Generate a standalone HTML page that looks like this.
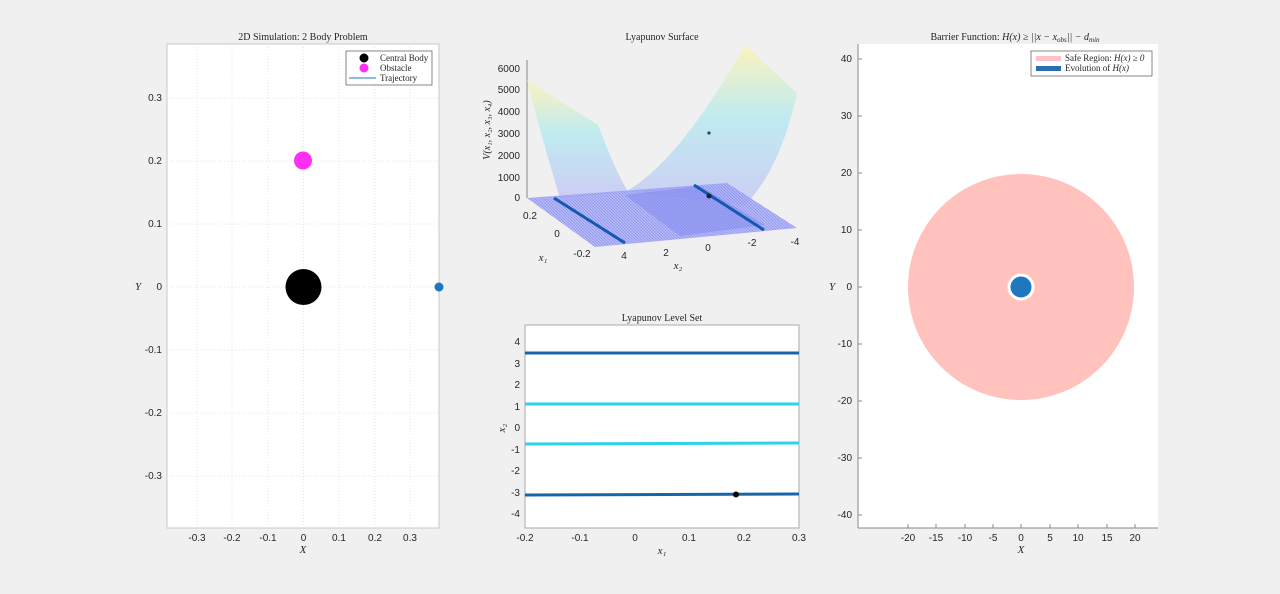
<!DOCTYPE html>
<html><head><style>
body{margin:0;background:#f0f0f0;width:1280px;height:594px;overflow:hidden}
svg{display:block}
text{font-family:"Liberation Sans",sans-serif;font-size:10px;fill:#262626}
.s{font-family:"Liberation Serif",serif;font-size:10px}
.i{font-family:"Liberation Serif",serif;font-style:italic;font-size:11px}
</style></head><body>
<svg width="1280" height="594" viewBox="0 0 1280 594">
<defs>
<linearGradient id="sg" x1="0" y1="0" x2="0" y2="1">
<stop offset="0" stop-color="#fff3b0"/><stop offset="0.45" stop-color="#b4eaf0"/><stop offset="1" stop-color="#c4c4f5"/>
</linearGradient>
<pattern id="mesh" width="3" height="3" patternUnits="userSpaceOnUse"><rect width="3" height="3" fill="#a9aef7"/><path d="M0 0L3 3" stroke="#6f78ee" stroke-width="0.6"/></pattern>
</defs>

<!-- Panel 1 -->
<rect x="167" y="44" width="272" height="484" fill="#fff" stroke="#c8c8c8"/>
<g stroke="#e4e4e4" stroke-dasharray="1,2">
<line x1="197" y1="44" x2="197" y2="528"/><line x1="232" y1="44" x2="232" y2="528"/><line x1="268" y1="44" x2="268" y2="528"/><line x1="303.5" y1="44" x2="303.5" y2="528"/><line x1="339" y1="44" x2="339" y2="528"/><line x1="375" y1="44" x2="375" y2="528"/><line x1="410" y1="44" x2="410" y2="528"/>
<line x1="167" y1="98" x2="439" y2="98"/><line x1="167" y1="161" x2="439" y2="161"/><line x1="167" y1="224" x2="439" y2="224"/><line x1="167" y1="287" x2="439" y2="287"/><line x1="167" y1="350" x2="439" y2="350"/><line x1="167" y1="413" x2="439" y2="413"/><line x1="167" y1="476" x2="439" y2="476"/>
</g>
<text class="s" x="303" y="40" text-anchor="middle">2D Simulation: 2 Body Problem</text>
<g text-anchor="end"><text x="162" y="101">0.3</text><text x="162" y="164">0.2</text><text x="162" y="227">0.1</text><text x="162" y="290">0</text><text x="162" y="353">-0.1</text><text x="162" y="416">-0.2</text><text x="162" y="479">-0.3</text></g>
<g text-anchor="middle"><text x="197" y="541">-0.3</text><text x="232" y="541">-0.2</text><text x="268" y="541">-0.1</text><text x="303.5" y="541">0</text><text x="339" y="541">0.1</text><text x="375" y="541">0.2</text><text x="410" y="541">0.3</text></g>
<text class="i" x="303" y="553" text-anchor="middle">X</text>
<text class="i" x="138" y="290" text-anchor="middle">Y</text>
<circle cx="303.5" cy="287" r="18" fill="#000"/>
<circle cx="303" cy="160.5" r="9" fill="#ff2ef0"/>
<circle cx="439" cy="287" r="4.5" fill="#1f77c0"/>
<rect x="346" y="51" width="86" height="34" fill="#fff" stroke="#555" stroke-width="0.7"/>
<circle cx="364" cy="58" r="4.5" fill="#000"/><circle cx="364" cy="68" r="4.5" fill="#ff2ef0"/>
<line x1="349" y1="78" x2="376" y2="78" stroke="#1f77c0"/>
<text class="s" x="380" y="61" style="font-size:9px">Central Body</text><text class="s" x="380" y="71" style="font-size:9px">Obstacle</text><text class="s" x="380" y="81" style="font-size:9px">Trajectory</text>

<!-- Panel 2: 3D surface -->
<text class="s" x="662" y="40" text-anchor="middle">Lyapunov Surface</text>
<line x1="527" y1="60" x2="527" y2="198" stroke="#888"/>
<g text-anchor="end"><text x="520" y="72">6000</text><text x="520" y="93">5000</text><text x="520" y="115">4000</text><text x="520" y="137">3000</text><text x="520" y="159">2000</text><text x="520" y="181">1000</text><text x="520" y="201">0</text></g>
<text class="i" x="490" y="130" text-anchor="middle" transform="rotate(-90 490 130)" style="font-size:10px">V(x₁, x₂, x₃, x₄)</text>
<path d="M527 80 L598 125 Q615 170 628 192 L560 198 Q545 150 527 80Z" fill="url(#sg)" opacity="0.8"/>
<path d="M627 191 Q680 160 745 45 L797 93 Q780 170 745 205 Z" fill="url(#sg)" opacity="0.8"/>
<path d="M527 198 L727 183 L797 228 L595 247 Z" fill="url(#mesh)" opacity="0.85"/>
<path d="M625 195 L700 186 L765 225 L680 236 Z" fill="#8088ee" opacity="0.5"/>
<line x1="554" y1="198" x2="625" y2="243" stroke="#1558b0" stroke-width="3"/>
<line x1="694" y1="185" x2="764" y2="230" stroke="#1558b0" stroke-width="3"/>
<circle cx="709" cy="133" r="1.6" fill="#1a4a90"/><circle cx="709" cy="196" r="2.5" fill="#123"/>
<g text-anchor="middle"><text x="530" y="219">0.2</text><text x="557" y="237">0</text><text x="582" y="257">-0.2</text><text x="624" y="259">4</text><text x="666" y="256">2</text><text x="708" y="251">0</text><text x="752" y="246">-2</text><text x="795" y="245">-4</text></g>
<text class="i" x="543" y="261" text-anchor="middle">x₁</text><text class="i" x="678" y="269" text-anchor="middle">x₂</text>

<!-- Panel 3: level set -->
<rect x="525" y="325" width="274" height="203" fill="#fff" stroke="#aaa"/>
<text class="s" x="662" y="321" text-anchor="middle">Lyapunov Level Set</text>
<g text-anchor="end"><text x="520" y="345">4</text><text x="520" y="367">3</text><text x="520" y="388">2</text><text x="520" y="410">1</text><text x="520" y="431">0</text><text x="520" y="453">-1</text><text x="520" y="474">-2</text><text x="520" y="496">-3</text><text x="520" y="517">-4</text></g>
<g text-anchor="middle"><text x="525" y="541">-0.2</text><text x="580" y="541">-0.1</text><text x="635" y="541">0</text><text x="689" y="541">0.1</text><text x="744" y="541">0.2</text><text x="799" y="541">0.3</text></g>
<text class="i" x="662" y="554" text-anchor="middle">x₁</text>
<text class="i" x="505" y="428" text-anchor="middle" transform="rotate(-90 505 428)">x₂</text>
<line x1="525" y1="353" x2="799" y2="353" stroke="#1565a8" stroke-width="3"/>
<line x1="525" y1="404" x2="799" y2="404" stroke="#2dd3e8" stroke-width="3"/>
<line x1="525" y1="444" x2="799" y2="443" stroke="#2dd3e8" stroke-width="3"/>
<line x1="525" y1="495" x2="799" y2="494" stroke="#1565a8" stroke-width="3"/>
<circle cx="736" cy="494.5" r="3" fill="#000"/>

<!-- Panel 4 -->
<rect x="858" y="44" width="300" height="484" fill="#fff"/>
<line x1="858" y1="44" x2="858" y2="528" stroke="#888"/><line x1="858" y1="528" x2="1158" y2="528" stroke="#888"/>
<g stroke="#888">
<line x1="858" y1="59" x2="862" y2="59"/><line x1="858" y1="116" x2="862" y2="116"/><line x1="858" y1="173" x2="862" y2="173"/><line x1="858" y1="230" x2="862" y2="230"/><line x1="858" y1="287" x2="862" y2="287"/><line x1="858" y1="344" x2="862" y2="344"/><line x1="858" y1="401" x2="862" y2="401"/><line x1="858" y1="458" x2="862" y2="458"/><line x1="858" y1="515" x2="862" y2="515"/>
<line x1="908" y1="528" x2="908" y2="524"/><line x1="936" y1="528" x2="936" y2="524"/><line x1="965" y1="528" x2="965" y2="524"/><line x1="993" y1="528" x2="993" y2="524"/><line x1="1021" y1="528" x2="1021" y2="524"/><line x1="1050" y1="528" x2="1050" y2="524"/><line x1="1078" y1="528" x2="1078" y2="524"/><line x1="1107" y1="528" x2="1107" y2="524"/><line x1="1135" y1="528" x2="1135" y2="524"/>
</g>
<text class="s" x="1015" y="40" text-anchor="middle">Barrier Function: <tspan font-style="italic">H(x) ≥ ||x − x<tspan font-size="7" dy="2">obs</tspan><tspan dy="-2">|| − d</tspan><tspan font-size="7" dy="2">min</tspan></tspan></text>
<g text-anchor="end"><text x="852" y="62">40</text><text x="852" y="119">30</text><text x="852" y="176">20</text><text x="852" y="233">10</text><text x="852" y="290">0</text><text x="852" y="347">-10</text><text x="852" y="404">-20</text><text x="852" y="461">-30</text><text x="852" y="518">-40</text></g>
<g text-anchor="middle"><text x="908" y="541">-20</text><text x="936" y="541">-15</text><text x="965" y="541">-10</text><text x="993" y="541">-5</text><text x="1021" y="541">0</text><text x="1050" y="541">5</text><text x="1078" y="541">10</text><text x="1107" y="541">15</text><text x="1135" y="541">20</text></g>
<text class="i" x="1021" y="553" text-anchor="middle">X</text>
<text class="i" x="832" y="290" text-anchor="middle">Y</text>
<ellipse cx="1021" cy="287" rx="113" ry="113" fill="#ffc2bc"/>
<circle cx="1021" cy="287" r="12" fill="#1f77c0" stroke="#fff" stroke-width="3"/>
<rect x="1031" y="51" width="121" height="25" fill="#fff" stroke="#555" stroke-width="0.7"/>
<rect x="1036" y="56" width="25" height="5" fill="#ffc2c8"/><rect x="1036" y="66" width="25" height="5" fill="#2a6eb0"/>
<text class="s" x="1065" y="61" style="font-size:9px">Safe Region: <tspan font-style="italic">H(x) ≥ 0</tspan></text>
<text class="s" x="1065" y="71" style="font-size:9px">Evolution of <tspan font-style="italic">H(x)</tspan></text>
</svg>
</body></html>
